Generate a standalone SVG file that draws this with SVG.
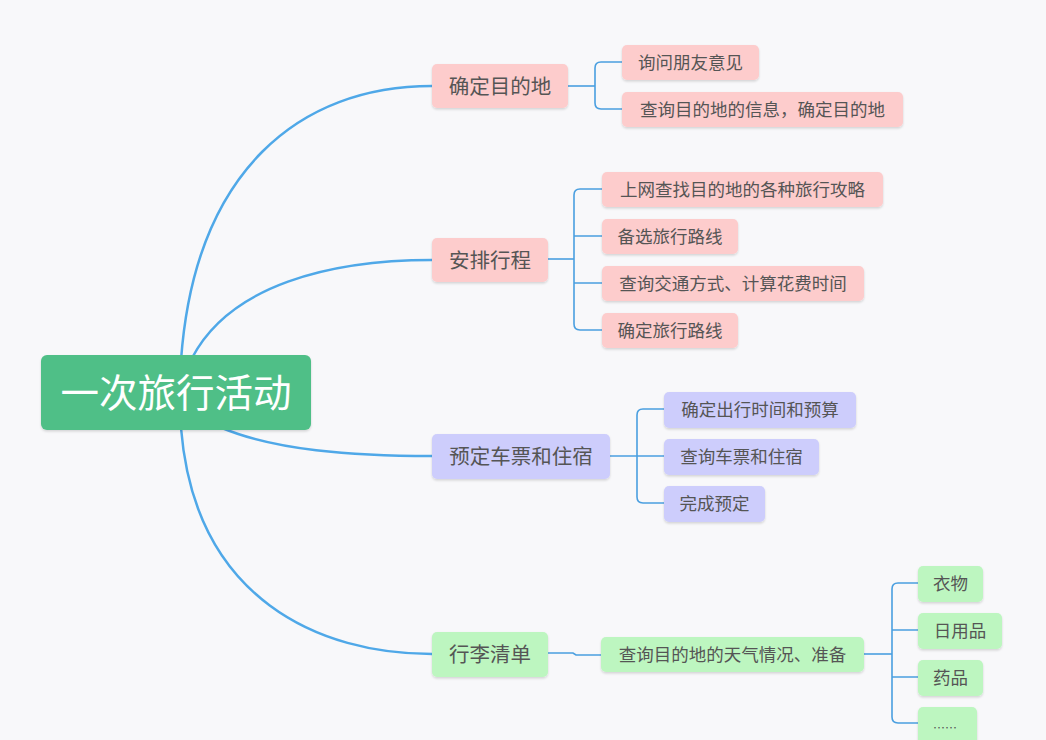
<svg xmlns="http://www.w3.org/2000/svg" width="1046" height="740" viewBox="0 0 1046 740">
<defs>
<filter id="sh" x="-10%" y="-20%" width="120%" height="150%">
<feDropShadow dx="0" dy="1.5" stdDeviation="1.2" flood-color="#000" flood-opacity="0.15"/>
</filter>
<style>
.t{font-family:"Noto Sans CJK SC","Noto Sans",sans-serif;fill:#555;text-anchor:middle;dominant-baseline:central}
.l1{font-size:20.5px}
.l2{font-size:17.5px}
.root{font-size:38.5px;fill:#fff}
.pk{fill:#fdcccc;filter:url(#sh)}
.pu{fill:#cdcdfc;filter:url(#sh)}
.gr{fill:#bdf6c0;filter:url(#sh)}
.main{fill:none;stroke:#4fa8e8;stroke-width:2.5}
.br{fill:none;stroke:#4a9fe0;stroke-width:1.6}
</style>
</defs>
<rect width="1046" height="740" fill="#f8f8fa"/>
<g id="connectors">
<path class="main" d="M181,360 C195,170 300,86 432,86"/>
<path class="main" d="M192,358 C230,285 330,260 432,260"/>
<path class="main" d="M222,428 C275,450 350,456 432,456"/>
<path class="main" d="M181,428 C195,600 320,654 432,654"/>
<path class="br" d="M568,86 H595"/>
<path class="br" d="M622,62 H601 Q595,62 595,68 V103 Q595,109 601,109 H622"/>
<path class="br" d="M548,259 H574"/>
<path class="br" d="M602,189 H580 Q574,189 574,195 V324 Q574,330 580,330 H602 M574,236 H602 M574,283 H602"/>
<path class="br" d="M610,456 H664"/>
<path class="br" d="M664,409 H643 Q637,409 637,415 V497 Q637,503 643,503 H664"/>
<path class="br" d="M548,653 H573 L576,655 H601"/>
<path class="br" d="M864,654 H892"/>
<path class="br" d="M918,583 H898 Q892,583 892,589 V717 Q892,723 898,723 H918 M892,630 H918 M892,677 H918"/>
</g>
<g id="root">
<rect x="41" y="355" width="270" height="75" rx="6" fill="#50bf87" filter="url(#sh)"/>
<text class="t root" x="176" y="390">一次旅行活动</text>
</g>
<g id="n1">
<rect class="pk" x="432" y="64" width="136" height="44" rx="5"/>
<text class="t l1" x="500" y="84.5">确定目的地</text>
</g>
<g id="n1a">
<rect class="pk" x="622" y="45" width="137" height="35" rx="5"/>
<text class="t l2" x="690.5" y="61">询问朋友意见</text>
</g>
<g id="n1b">
<rect class="pk" x="622" y="92" width="281" height="35" rx="5"/>
<text class="t l2" x="762.5" y="108">查询目的地的信息，确定目的地</text>
</g>
<g id="n2">
<rect class="pk" x="432" y="238" width="116" height="44" rx="5"/>
<text class="t l1" x="490" y="258.5">安排行程</text>
</g>
<g id="n2a">
<rect class="pk" x="602" y="172" width="281" height="35" rx="5"/>
<text class="t l2" x="742.5" y="188">上网查找目的地的各种旅行攻略</text>
</g>
<g id="n2b">
<rect class="pk" x="602" y="219" width="136" height="35" rx="5"/>
<text class="t l2" x="670" y="235">备选旅行路线</text>
</g>
<g id="n2c">
<rect class="pk" x="602" y="266" width="262" height="35" rx="5"/>
<text class="t l2" x="733" y="282">查询交通方式、计算花费时间</text>
</g>
<g id="n2d">
<rect class="pk" x="602" y="313" width="136" height="35" rx="5"/>
<text class="t l2" x="670" y="329">确定旅行路线</text>
</g>
<g id="n3">
<rect class="pu" x="432" y="434" width="178" height="45" rx="5"/>
<text class="t l1" x="521" y="455">预定车票和住宿</text>
</g>
<g id="n3a">
<rect class="pu" x="664" y="392" width="192" height="36" rx="5"/>
<text class="t l2" x="760" y="408.5">确定出行时间和预算</text>
</g>
<g id="n3b">
<rect class="pu" x="664" y="439" width="155" height="36" rx="5"/>
<text class="t l2" x="741.5" y="455.5">查询车票和住宿</text>
</g>
<g id="n3c">
<rect class="pu" x="664" y="486" width="101" height="36" rx="5"/>
<text class="t l2" x="714.5" y="502.5">完成预定</text>
</g>
<g id="n4">
<rect class="gr" x="432" y="632" width="116" height="45" rx="5"/>
<text class="t l1" x="490" y="653">行李清单</text>
</g>
<g id="n4a">
<rect class="gr" x="601" y="637" width="263" height="35" rx="5"/>
<text class="t l2" x="732.5" y="653">查询目的地的天气情况、准备</text>
</g>
<g id="n4b">
<rect class="gr" x="918" y="566" width="65" height="36" rx="5"/>
<text class="t l2" x="950.5" y="582.5">衣物</text>
</g>
<g id="n4c">
<rect class="gr" x="918" y="613" width="84" height="36" rx="5"/>
<text class="t l2" x="960" y="629.5">日用品</text>
</g>
<g id="n4d">
<rect class="gr" x="918" y="660" width="65" height="36" rx="5"/>
<text class="t l2" x="950.5" y="676.5">药品</text>
</g>
<g id="n4e">
<rect class="gr" x="918" y="707" width="59" height="40" rx="5"/>
<text class="t" style="font-size:12px" x="945" y="727">……</text>
</g>
</svg>
